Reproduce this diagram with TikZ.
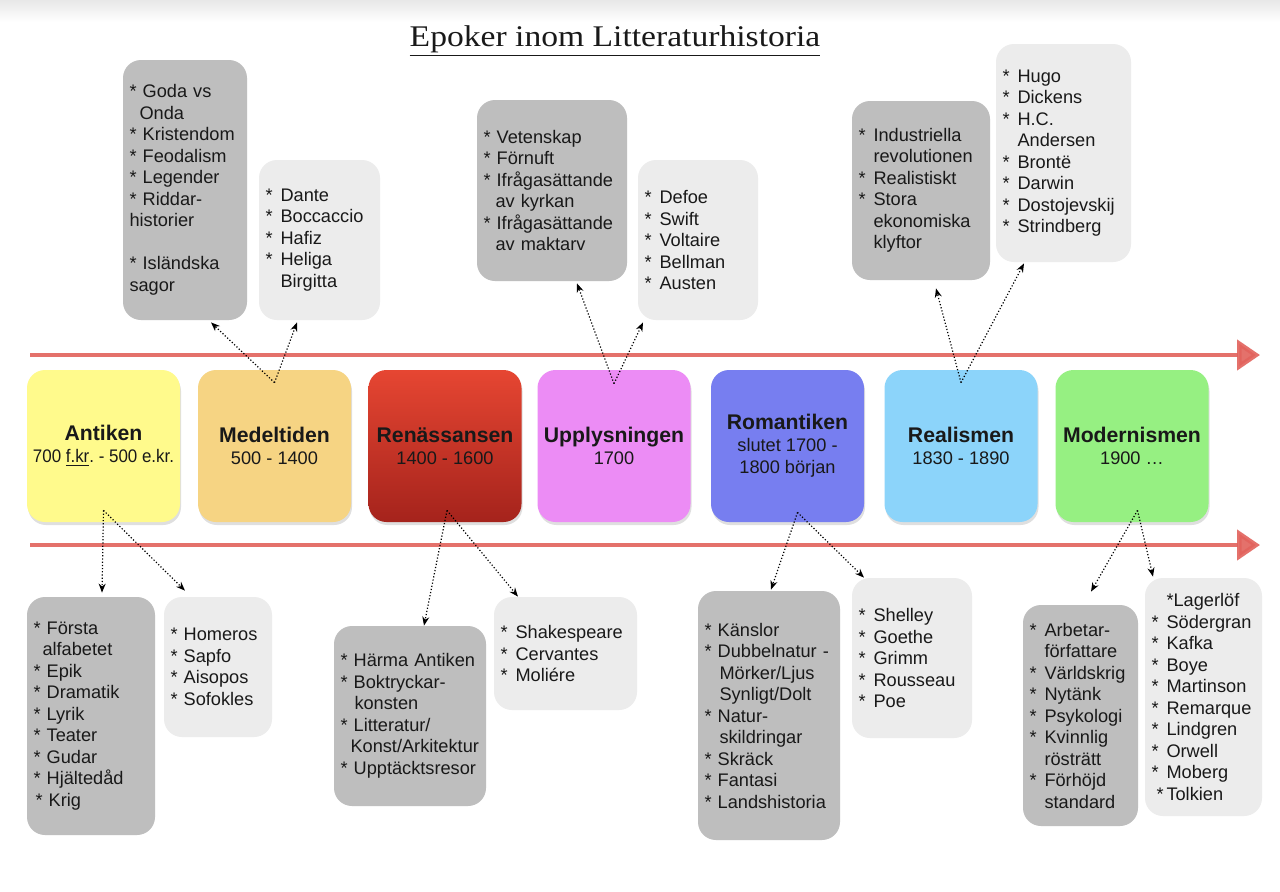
\documentclass[tikz,border=0pt]{standalone}
\usepackage{fontspec}
\setmainfont{Liberation Sans}
\newfontfamily\titlefont[FakeStretch=1.12]{Liberation Serif}
\usetikzlibrary{arrows.meta,shadows}
\frenchspacing

\definecolor{antcol}{RGB}{255,250,140}
\definecolor{medcol}{RGB}{246,212,131}
\definecolor{rentop}{RGB}{230,70,50}
\definecolor{renbot}{RGB}{165,35,28}
\definecolor{uppcol}{RGB}{236,140,245}
\definecolor{romcol}{RGB}{119,126,240}
\definecolor{reacol}{RGB}{140,212,250}
\definecolor{modcol}{RGB}{150,240,130}
\definecolor{boxdark}{RGB}{190,190,190}
\definecolor{boxlight}{RGB}{236,236,236}
\definecolor{linered}{RGB}{226,98,92}
\definecolor{ink}{RGB}{25,25,25}

\newcommand{\dstar}{*~}
\newcommand{\lstar}{\makebox[7.5pt][l]{*}}
\newcommand{\ind}{\hspace*{6pt}}
\newcommand{\lind}{\hspace*{7.5pt}}
\newcommand{\eratitle}[1]{{\fontsize{10.6}{11.5}\selectfont\bfseries #1}}

\tikzset{
  era/.style={rounded corners=9pt, minimum width=76.5pt, minimum height=76pt,
    inner xsep=0.5pt, align=center, text=ink, font=\fontsize{9.1}{11}\selectfont,
    drop shadow={opacity=0.25, shadow xshift=0.5pt, shadow yshift=-1.5pt}},
  darkbox/.style={fill=boxdark, rounded corners=9pt, inner xsep=3.25pt,
    align=left, text=ink, font=\fontsize{9.1}{10.75}\selectfont},
  lightbox/.style={darkbox, fill=boxlight},
  dotarrow/.style={densely dotted, line width=0.6pt, -{Stealth[length=4.5pt,width=3.5pt]}},
  timeline/.style={line width=2.3pt, draw=linered, opacity=0.9,
    -{Triangle[length=11.5pt,width=15pt]}}
}

\begin{document}
\begin{tikzpicture}[x=0.5pt, y=-0.5pt]
    \useasboundingbox (0,0) rectangle (1280,891);
    \fill[white] (0,0) rectangle (1280,891);
    \fill[top color=gray!18, bottom color=white] (0,0) rectangle (1280,22);

    % Title
    \node[anchor=base, text=ink] (title) at (615,46)
        {\titlefont\fontsize{15}{18}\selectfont\underline{Epoker inom Litteraturhistoria}};

    % Timeline arrows
    \coordinate (tlUp0) at (30,355);
    \coordinate (tlUp1) at (1260,355);
    \coordinate (tlLo0) at (30,545);
    \coordinate (tlLo1) at (1260,545);
    \draw[timeline] (tlUp0) -- (tlUp1);
    \draw[timeline] (tlLo0) -- (tlLo1);

    % Epochs
    \node[era, fill=antcol] (ant) at (103.5,446) {\eratitle{Antiken}\\\scalebox{0.93}[1]{700 \underline{f.kr}. - 500 e.kr.}};
    \node[era, fill=medcol] (med) at (274.5,446) {\eratitle{Medeltiden}\\500 - 1400};
    \node[era, top color=rentop, bottom color=renbot] (ren) at (445,446) {\eratitle{Renässansen}\\1400 - 1600};
    \node[era, fill=uppcol] (upp) at (614,446) {\eratitle{Upplysningen}\\1700};
    \node[era, fill=romcol] (rom) at (787.5,446) {\eratitle{Romantiken}\\slutet 1700 -\\1800 början};
    \node[era, fill=reacol] (rea) at (961,446) {\eratitle{Realismen}\\1830 - 1890};
    \node[era, fill=modcol] (mod) at (1132,446) {\eratitle{Modernismen}\\1900 …};

    % Boxes above
    \node[darkbox, text width=55.5pt, minimum height=130pt] (medIdea) at (185,190)
        {\dstar Goda~vs\\\hspace*{5pt}Onda\\\dstar Kristendom\\\dstar Feodalism\\\dstar Legender\\
         \dstar Riddar-\\historier\\[10.75pt]\dstar Isländska\\sagor};
    \node[lightbox, text width=54pt, minimum height=80pt] (medName) at (319.5,240)
        {\lstar Dante\\\lstar Boccaccio\\\lstar Hafiz\\\lstar Heliga\\\lind Birgitta};
    \node[darkbox, text width=68.5pt, minimum height=90.5pt] (uppIdea) at (552,190.5)
        {\dstar Vetenskap\\\dstar Förnuft\\\dstar Ifrågasättande\\\ind av~kyrkan\\
         \dstar Ifrågasättande\\\ind av~maktarv};
    \node[lightbox, text width=53.5pt, minimum height=80pt] (uppName) at (698,240)
        {\lstar Defoe\\\lstar Swift\\\lstar Voltaire\\\lstar Bellman\\\lstar Austen};
    \node[darkbox, text width=62.5pt, minimum height=89.5pt] (reaIdea) at (921,190.5)
        {\lstar Industriella\\\lind revolutionen\\\lstar Realistiskt\\\lstar Stora\\
         \lind ekonomiska\\\lind klyftor};
    \node[lightbox, text width=61pt, minimum height=109pt] (reaName) at (1063.5,153)
        {\lstar Hugo\\\lstar Dickens\\\lstar H.C.\\\lind Andersen\\\lstar Brontë\\
         \lstar Darwin\\\lstar Dostojevskij\\\lstar Strindberg};

    % Boxes below
    \node[darkbox, text width=57.5pt, minimum height=119pt] (antIdea) at (91,716)
        {\dstar Första\\\hspace*{4.5pt}alfabetet\\\dstar Epik\\\dstar Dramatik\\\dstar Lyrik\\
         \dstar Teater\\\dstar Gudar\\\dstar Hjältedåd\\\hspace*{1pt}\dstar Krig};
    \node[lightbox, text width=47.5pt, minimum height=70pt] (antName) at (218,667)
        {\dstar Homeros\\\dstar Sapfo\\\dstar Aisopos\\\dstar Sofokles};
    \node[darkbox, text width=69.5pt, minimum height=90pt] (renIdea) at (410,716)
        {\dstar Härma~Antiken\\\dstar Boktryckar-\\\hspace*{7pt}konsten\\\dstar Litteratur/\\
         \hspace*{5pt}Konst/Arkitektur\\\dstar Upptäcktsresor};
    \node[lightbox, text width=65pt, minimum height=56.5pt] (renName) at (565.5,653.5)
        {\lstar Shakespeare\\\lstar Cervantes\\\lstar Moliére};
    \node[darkbox, text width=64.5pt, minimum height=124.5pt] (romIdea) at (769,715.5)
        {\dstar Känslor\\\dstar Dubbelnatur~-\\\hspace*{7.5pt}Mörker/Ljus\\\hspace*{7.5pt}Synligt/Dolt\\
         \dstar Natur-\\\hspace*{7.5pt}skildringar\\\dstar Skräck\\\dstar Fantasi\\\dstar Landshistoria};
    \node[lightbox, text width=53.5pt, minimum height=80pt] (romName) at (912,658)
        {\lstar Shelley\\\lstar Goethe\\\lstar Grimm\\\lstar Rousseau\\\lstar Poe};
    \node[darkbox, text width=51pt, minimum height=110.5pt] (modIdea) at (1080.5,715.5)
        {\lstar Arbetar-\\\lind författare\\\lstar Världskrig\\\lstar Nytänk\\\lstar Psykologi\\
         \lstar Kvinnlig\\\lind rösträtt\\\lstar Förhöjd\\\lind standard};
    \node[lightbox, text width=52pt, minimum height=119pt] (modName) at (1203.5,697)
        {\hspace*{7.5pt}*Lagerlöf\\\lstar Södergran\\\lstar Kafka\\\lstar Boye\\\lstar Martinson\\
         \lstar Remarque\\\lstar Lindgren\\\lstar Orwell\\\lstar Moberg\\
         \hspace*{2.5pt}\makebox[5pt][l]{*}Tolkien};

    % Arrows
    \coordinate (medTop) at ([yshift=-6.5pt]med.north);
    \coordinate (uppTop) at ([yshift=-7pt]upp.north);
    \coordinate (reaTop) at ([yshift=-6.5pt]rea.north);
    \coordinate (antBot) at ([yshift=6pt]ant.south);
    \coordinate (renBot) at ([xshift=1pt, yshift=6pt]ren.south);
    \coordinate (romBot) at ([xshift=5pt, yshift=5pt]rom.south);
    \coordinate (modBot) at ([xshift=2.75pt, yshift=6pt]mod.south);

    \draw[dotarrow] (medTop) -- ([xshift=13pt, yshift=-1pt]medIdea.south);
    \draw[dotarrow] (medTop) -- ([xshift=-11.25pt, yshift=-1pt]medName.south);
    \draw[dotarrow] (uppTop) -- ([xshift=12.5pt, yshift=-1pt]uppIdea.south);
    \draw[dotarrow] (uppTop) -- ([xshift=-27.5pt, yshift=-1pt]uppName.south);
    \draw[dotarrow] (reaTop) -- ([xshift=7.5pt, yshift=-4pt]reaIdea.south);
    \draw[dotarrow] (reaTop) -- ([xshift=-19.75pt, yshift=-0.5pt]reaName.south);

    \draw[dotarrow] (antBot) -- ([xshift=5.5pt, yshift=2pt]antIdea.north);
    \draw[dotarrow] (antBot) -- ([xshift=-16.5pt, yshift=3pt]antName.north);
    \draw[dotarrow] (renBot) -- ([xshift=7pt]renIdea.north);
    \draw[dotarrow] (renBot) -- ([xshift=-23.75pt]renName.north);
    \draw[dotarrow] (romBot) -- ([xshift=1pt, yshift=0.5pt]romIdea.north);
    \draw[dotarrow] (romBot) -- ([xshift=-24pt]romName.north);
    \draw[dotarrow] (modBot) -- ([xshift=5.25pt, yshift=6.5pt]modIdea.north);
    \draw[dotarrow] (modBot) -- ([xshift=-25.25pt, yshift=0.5pt]modName.north);
\end{tikzpicture}
\end{document}
